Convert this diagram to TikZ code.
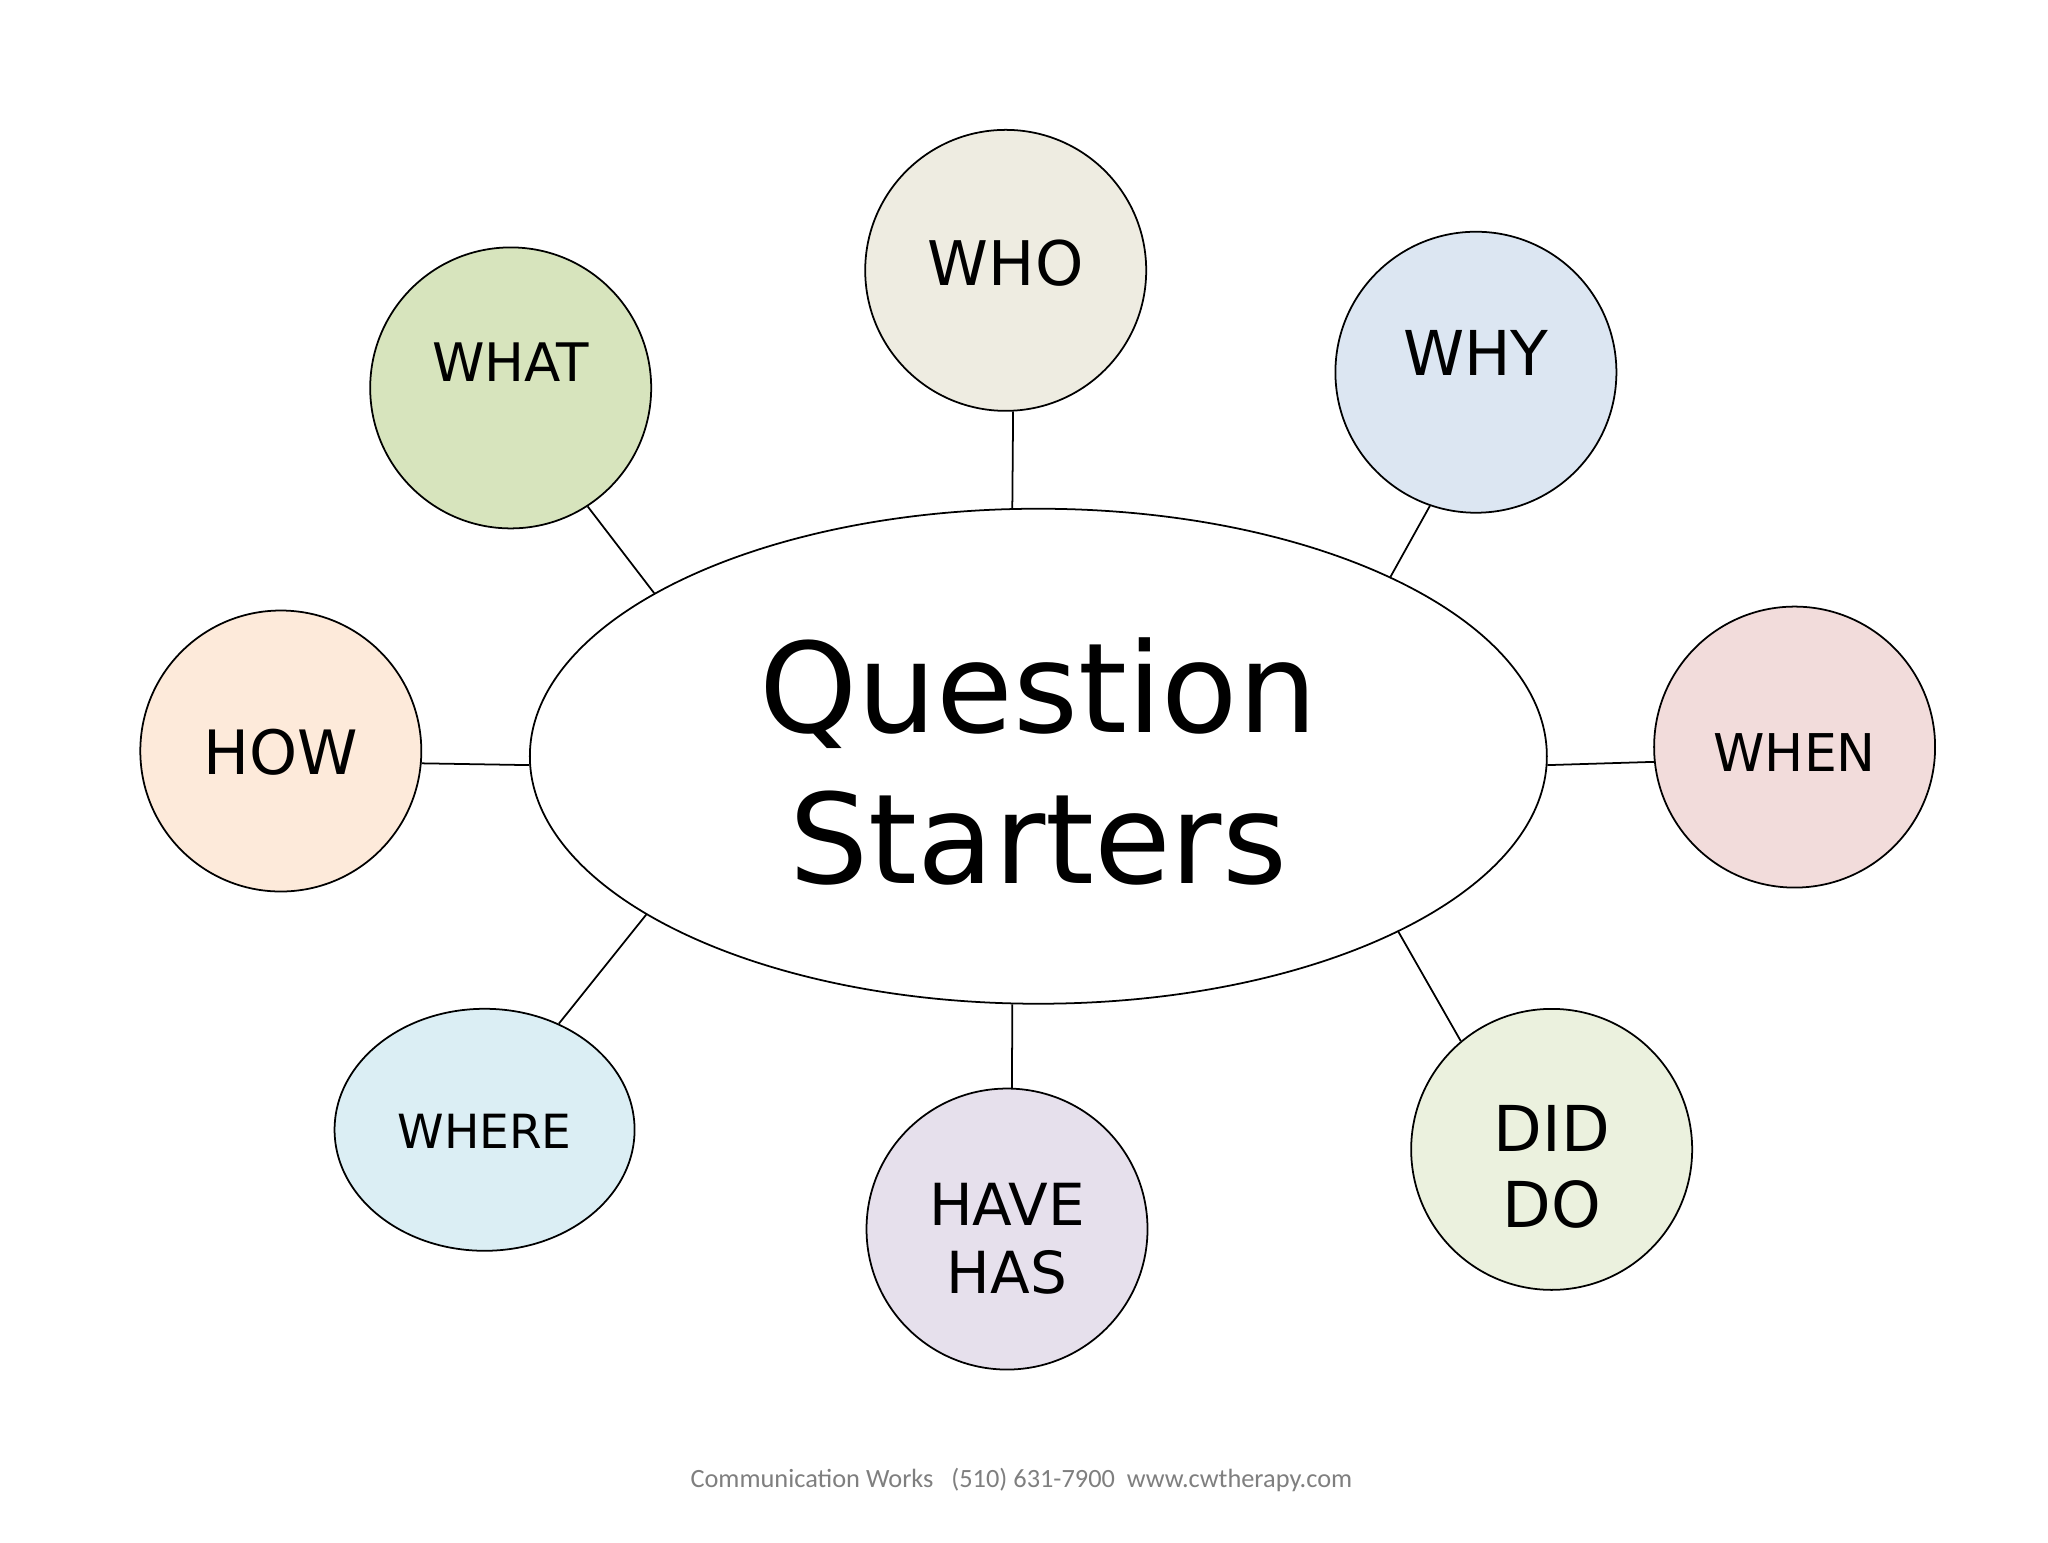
\documentclass[tikz,border=0pt]{standalone}
\usepackage{fontspec}
\setmainfont{DejaVu Sans}
\newfontfamily\footfont{Carlito}
\usetikzlibrary{shapes.geometric}

\definecolor{whofill}{HTML}{EEECE1}
\definecolor{whatfill}{HTML}{D7E4BD}
\definecolor{whyfill}{HTML}{DCE6F2}
\definecolor{howfill}{HTML}{FDEADA}
\definecolor{whenfill}{HTML}{F2DCDB}
\definecolor{wherefill}{HTML}{DBEEF4}
\definecolor{havefill}{HTML}{E6E0EC}
\definecolor{didfill}{HTML}{EBF1DE}
\definecolor{footgray}{HTML}{7F7F7F}

\newcommand{\fsz}[2]{\fontsize{#1}{#2}\selectfont}

\begin{document}
\begin{tikzpicture}[x=0.01306cm, y=-0.01306cm, line width=0.5pt,
    bubble/.style={circle, draw, minimum size=2.81cm, inner sep=0pt},
    spoke/.style={draw}]
  \fill[white] (0,0) rectangle (1568,1181);
  \useasboundingbox (0,0) rectangle (1568,1181);

  \node[ellipse, draw, fill=white, minimum width=10.17cm, minimum height=4.95cm,
        inner sep=0pt, align=center, font=\fsz{35.5pt}{43pt},
        label={[font=\fsz{35.5pt}{43pt}, align=center, yshift=-1.5pt]center:Question\\Starters}]
        (main) at (795,579) {};

  \node[bubble, fill=whofill,
        label={[font=\fsz{17.5pt}{21pt}, yshift=2.2pt]center:WHO}] (who) at (770,207) {};
  \node[bubble, fill=whatfill,
        label={[font=\fsz{15.1pt}{18pt}, yshift=7.4pt]center:WHAT}] (what) at (391,297) {};
  \node[bubble, fill=whyfill,
        label={[font=\fsz{17.6pt}{21pt}, yshift=5.6pt]center:WHY}] (why) at (1130,285) {};
  \node[bubble, fill=howfill,
        label={[font=\fsz{17.4pt}{21pt}, yshift=-0.4pt]center:HOW}] (how) at (215,575) {};
  \node[bubble, fill=whenfill,
        label={[font=\fsz{14.8pt}{18pt}, yshift=-1.5pt]center:WHEN}] (when) at (1374,572) {};
  \node[ellipse, draw, fill=wherefill, minimum width=3.0cm, minimum height=2.42cm, inner sep=0pt,
        label={[font=\fsz{13.4pt}{16pt}, yshift=-0.3pt]center:WHERE}] (where) at (371,865) {};
  \node[bubble, fill=havefill,
        label={[font=\fsz{16.5pt}{19.3pt}, align=center, yshift=-2.8pt]center:HAVE\\HAS}]
        (have) at (771,941) {};
  \node[bubble, fill=didfill,
        label={[font=\fsz{18pt}{21.6pt}, align=center, yshift=-5pt]center:DID\\DO}]
        (did) at (1188,880) {};

  % spokes from the bubbles to the middle
  \path[spoke] (who.-87) -- (main.96);
  \path[spoke] (what.-57) -- (main.157);
  \path[spoke] (why.-109) -- (main.27);
  \path[spoke] (how.-5) -- (main.181);
  \path[spoke] (when.186) -- (main.-1);
  \path[spoke] (where.55) -- (main.202);
  \path[spoke] (have.88) -- (main.-96);
  \path[spoke] (did.130) -- (main.-26);
%  \path[spoke] (who) -- (main);

  \node[font=\footfont\fsz{7.5pt}{9pt}, text=footgray] (foot) at (782,1133)
    {Communication Works\ \ \ (510) 631-7900\ \ www.cwtherapy.com};
\end{tikzpicture}
\end{document}
